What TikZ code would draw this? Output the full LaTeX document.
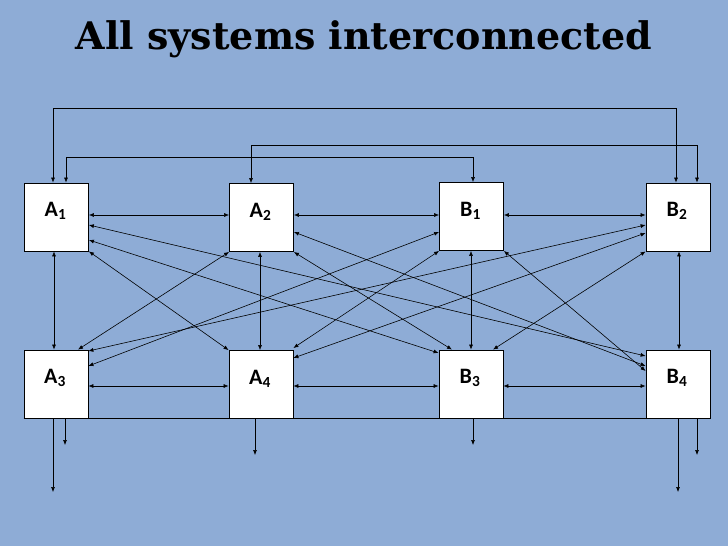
\documentclass[tikz,border=0pt]{standalone}
\usepackage{fontspec}
\setmainfont{Carlito}
\newfontfamily\titlefont{DejaVu Serif}
\usetikzlibrary{arrows.meta,calc}
\definecolor{bg}{RGB}{142,172,214}
\begin{document}
\begin{tikzpicture}[x=1pt,y=-1pt,
  box/.style={draw=black,fill=white,line width=0.8pt,minimum width=64pt,minimum height=68pt,inner sep=0pt},
  lab/.style={font=\bfseries\fontsize{22}{24}\selectfont},
  con/.style={line width=0.6pt,{Latex[length=5pt,width=4pt]}-{Latex[length=5pt,width=4pt]}},
  outarr/.style={line width=0.6pt,-{Latex[length=5pt,width=4pt]}}]
\fill[bg] (0,0) rectangle (728,546);
\useasboundingbox (0,0) rectangle (728,546);
\node[font=\titlefont\bfseries\fontsize{38}{40}\selectfont] (title) at (364,39) {All systems interconnected};
% boxes
\node[box] (A1) at (56.5,217) {};
\node[box] (A2) at (261.5,217.5) {};
\node[box] (B1) at (471.5,216.5) {};
\node[box] (B2) at (678,217) {};
\node[box] (A3) at (56,384) {};
\node[box] (A4) at (261,384.5) {};
\node[box] (B3) at (471,384) {};
\node[box] (B4) at (678,384) {};
\foreach \n/\a/\b in {A1/A/1,A2/A/2,B1/B/1,B2/B/2,A3/A/3,A4/A/4,B3/B/3,B4/B/4}
  \node[lab] (l\n) at ($(\n.center)+(-1,-6)$) {\a\textsubscript{\b}};
% bottom line
\draw[line width=0.8pt] (A3.south west) -- (B4.south east);
% horizontal
\draw[con] (A1.east|-0,215) -- (A2.west|-0,215);
\draw[con] (A2.east|-0,215) -- (B1.west|-0,215);
\draw[con] (B1.east|-0,215) -- (B2.west|-0,215);
\draw[con] (A3.east|-0,386) -- (A4.west|-0,386);
\draw[con] (A4.east|-0,386) -- (B3.west|-0,386);
\draw[con] (B3.east|-0,386) -- (B4.west|-0,386);
% vertical
\draw[con] (54,0|-A1.south) -- (54,0|-A3.north);
\draw[con] (260,0|-A2.south) -- (260,0|-A4.north);
\draw[con] (471,0|-B1.south) -- (471,0|-B3.north);
\draw[con] (679,0|-B2.south) -- (679,0|-B4.north);
% diagonals
\draw[con] (A1.south east) -- (A4.north west);
\draw[con] (A1.east|-0,225) -- (B4.west|-0,356);
\draw[con] (A1.east|-0,240) -- (B3.west|-0,353);
\draw[con] (A2.south west) -- (78,0|-A3.north);
\draw[con] (A2.east|-0,232) -- (B4.west|-0,366);
\draw[con] (A2.east|-0,252) -- (452,0|-B3.north);
\draw[con] (B1.west|-0,232) -- (A3.east|-0,366);
\draw[con] (B1.south west) -- (A4.east|-0,348);
\draw[con] (B1.south east) -- (B4.west|-0,371);
\draw[con] (B2.west|-0,225) -- (A3.east|-0,351);
\draw[con] (B2.west|-0,233) -- (A4.east|-0,358);
\draw[con] (B2.south west) -- (493,0|-B3.north);
% top loops
\draw[con] (53,0|-A1.north) -- (53,108) -- (676,108) -- (676,0|-B2.north);
\draw[con] (251,0|-A2.north) -- (251,145) -- (697,145) -- (697,0|-B2.north);
\draw[con] (66,0|-A1.north) -- (66,157) -- (473,157) -- (473,0|-B1.north);
% outputs
\coordinate (o1) at (53,492);
\coordinate (o2) at (65,445);
\coordinate (o3) at (255,455);
\coordinate (o4) at (473,445);
\coordinate (o5) at (678,492);
\coordinate (o6) at (697,455);
\draw[outarr] (53,0|-A3.south) -- (o1);
\draw[outarr] (65,0|-A3.south) -- (o2);
\draw[outarr] (255,0|-A4.south) -- (o3);
\draw[outarr] (473,0|-B3.south) -- (o4);
\draw[outarr] (678,0|-B4.south) -- (o5);
\draw[outarr] (697,0|-B4.south) -- (o6);
\end{tikzpicture}
\end{document}
